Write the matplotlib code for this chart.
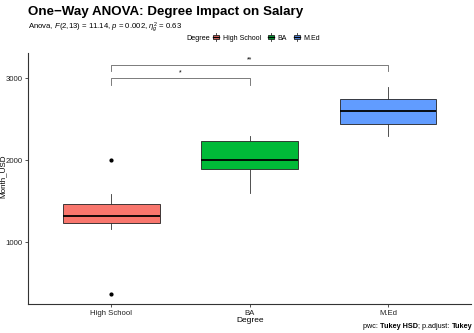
import matplotlib
matplotlib.use("Agg")
import matplotlib.pyplot as plt
from matplotlib.patches import Rectangle
from matplotlib.lines import Line2D
from matplotlib.legend_handler import HandlerBase
from matplotlib.offsetbox import TextArea, HPacker, AnchoredOffsetbox

plt.rcParams['font.family'] = ['Liberation Sans', 'DejaVu Sans']
plt.rcParams['mathtext.fontset'] = 'custom'
plt.rcParams['mathtext.rm'] = 'Liberation Sans'
plt.rcParams['mathtext.it'] = 'Liberation Sans:italic'
plt.rcParams['mathtext.bf'] = 'Liberation Sans:bold'

# data
degrees = ['High School', 'BA', 'M.Ed']
colors = ['#F8766D', '#00BA38', '#619CFF']
q1 = [1235, 1895, 2447]
med = [1320, 2000, 2595]
q3 = [1472, 2235, 2745]
whis_lo = [1160, 1600, 2296]
whis_hi = [1595, 2293, 2894]
outliers = [[2000, 375], [], []]

# pairwise comparisons (group1, group2, y, label)
comp_g1 = [1, 1]
comp_g2 = [2, 3]
comp_y = [3003, 3167]
comp_lab = ['*', '**']
tip = 80

stats = []
for i in range(len(degrees)):
    stats.append(dict(med=med[i], q1=q1[i], q3=q3[i], whislo=whis_lo[i],
                      whishi=whis_hi[i], fliers=outliers[i], label=degrees[i]))

fig = plt.figure(figsize=(4.74, 3.33), dpi=100)
ax = fig.add_axes([0.0597, 0.0871, 0.934, 0.753])

bp = ax.bxp(stats, positions=[1, 2, 3], widths=0.7, patch_artist=True,
            showcaps=False,
            boxprops=dict(edgecolor='#222222', linewidth=0.6),
            whiskerprops=dict(color='#333333', linewidth=0.6),
            medianprops=dict(color='black', linewidth=1.3),
            flierprops=dict(marker='o', markersize=2.0, markerfacecolor='black',
                            markeredgecolor='black'))
for box, c in zip(bp['boxes'], colors):
    box.set_facecolor(c)

for g1, g2, y, lab in zip(comp_g1, comp_g2, comp_y, comp_lab):
    ax.plot([g1, g1, g2, g2], [y - tip, y, y, y - tip], color='#666666', lw=0.6)
    ax.text((g1 + g2) / 2, y + 15, lab, ha='center', va='bottom', fontsize=5)

ax.set_xlim(0.4, 3.6)
ax.set_ylim(248, 3305)
ax.set_yticks([1000, 2000, 3000])
ax.set_xticks([1, 2, 3])
ax.set_xticklabels(degrees)
for s in ['top', 'right']:
    ax.spines[s].set_visible(False)
for s in ['left', 'bottom']:
    ax.spines[s].set_linewidth(0.8)
    ax.spines[s].set_color('#333333')
ax.tick_params(labelsize=5.6, length=2.5, width=0.6, pad=1.5, colors='#333333',
               labelcolor='#222222')
ax.set_xlabel('Degree', fontsize=6.0, labelpad=0)
ax.set_ylabel('Month_USD', fontsize=5.8, va='center')
ax.yaxis.set_label_coords(-0.056, 0.51)

fig.text(0.059, 0.955, 'One\u2212Way ANOVA: Degree Impact on Salary',
         fontsize=9.6, fontweight='bold', ha='left', va='baseline')
fig.text(0.059, 0.913,
         r'Anova, $F$(2,13) = 11.14, $p$ = 0.002, $\eta^2_g$ = 0.63',
         fontsize=5.6, ha='left', va='baseline')

# caption with bold parts
cap_parts = [('pwc: ', 'normal'), ('Tukey HSD', 'bold'), ('; p.adjust: ', 'normal'),
             ('Tukey', 'bold')]
areas = [TextArea(t, textprops=dict(fontsize=5.2, fontweight=w)) for t, w in cap_parts]
pack = HPacker(children=areas, align='baseline', pad=0, sep=0)
cap = AnchoredOffsetbox(loc='lower right', child=pack, frameon=False, pad=0,
                        borderpad=0, bbox_to_anchor=(0.996, 0.008),
                        bbox_transform=fig.transFigure)
fig.add_artist(cap)


class BoxHandler(HandlerBase):
    def create_artists(self, legend, orig, x0, y0, w, h, fontsize, trans):
        c = orig.get_facecolor()
        cx = x0 + w / 2
        wl = Line2D([cx, cx], [y0 - h * 0.2, y0 + h * 1.2], color='#333333', lw=0.6)
        r = Rectangle((x0 + w * 0.1, y0 + h * 0.1), w * 0.8, h * 0.8, facecolor=c,
                      edgecolor='#222222', lw=0.6)
        ml = Line2D([x0 + w * 0.1, x0 + w * 0.9], [y0 + h / 2, y0 + h / 2],
                    color='black', lw=1.0)
        for a in (wl, r, ml):
            a.set_transform(trans)
        return [wl, r, ml]


handles = [Rectangle((0, 0), 1, 1, facecolor=c) for c in colors]
fig.text(0.394, 0.884, 'Degree', fontsize=5.2, ha='left', va='center')
fig.legend(handles, degrees, handler_map={Rectangle: BoxHandler()},
           loc='center left', bbox_to_anchor=(0.448, 0.884), ncol=3, frameon=False,
           fontsize=5, handlelength=1.0, handleheight=0.9, handletextpad=0.5,
           columnspacing=0.9, borderpad=0, borderaxespad=0)

fig.savefig('out.png', dpi=100)
